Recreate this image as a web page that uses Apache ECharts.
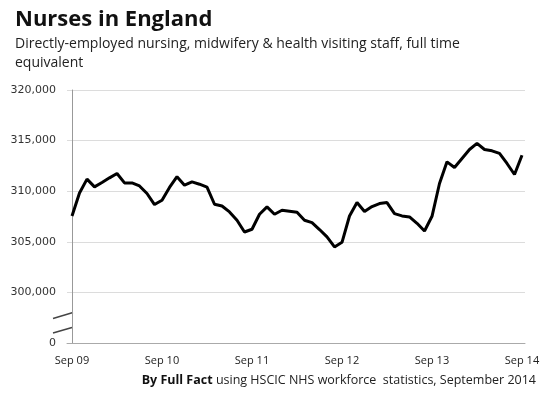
<!DOCTYPE html>
<html>
<head>
<meta charset="utf-8">
<script src="https://cdn.jsdelivr.net/npm/echarts@6/dist/echarts.min.js"></script>
<style>
  html, body { margin: 0; padding: 0; background: #fff; }
  #main { width: 550px; height: 403px; }
</style>
</head>
<body>
<div id="main"></div>
<script>
// monthly, Sep 2009 .. Sep 2014
var months = ['Sep', 'Oct', 'Nov', 'Dec', 'Jan', 'Feb', 'Mar', 'Apr', 'May', 'Jun', 'Jul', 'Aug'];
var startYear = 9;
var nurses = [
  307550, 309830, 311190, 310430, 310860, 311320, 311750, 310820, 310820, 310520, 309770, 308680,
  309110, 310370, 311430, 310590, 310920, 310690, 310400, 308710, 308540, 307950, 307130, 305970,
  306240, 307720, 308450, 307720, 308120, 308020, 307920, 307130, 306900, 306210, 305480, 304490,
  304950, 307550, 308880, 307990, 308480, 308780, 308880, 307790, 307560, 307460, 306830, 306070,
  307520, 310760, 312900, 312340, 313230, 314120, 314720, 314120, 313990, 313730, 312740, 311650,
  313560
];
var xTicks = [0, 12, 24, 36, 48, 60];
var yTicks = [295000, 300000, 305000, 310000, 315000, 320000];

function monthLabel(i) {
  var m = months[i % 12];
  var y = startYear + Math.floor((i + 8) / 12);
  return m + ' ' + (y < 10 ? '0' + y : y);
}

var seriesData = nurses.map(function (v, i) { return [i, v]; });

var chart = echarts.init(document.getElementById('main'));
var option = {
  animation: false,
  backgroundColor: '#fff',
  title: {
    text: 'Nurses in England',
    subtext: 'Directly-employed nursing, midwifery & health visiting staff, full time\nequivalent',
    left: 10,
    top: 4,
    itemGap: 4,
    textStyle: { fontFamily: 'Open Sans', fontWeight: 'bold', fontSize: 22, color: '#111' },
    subtextStyle: { fontFamily: 'Open Sans', fontSize: 14, color: '#222', lineHeight: 19 }
  },
  grid: { left: 67, right: 25, top: 90, bottom: 60 },
  xAxis: {
    type: 'value',
    min: -0.667,
    max: 60.4,
    splitLine: { show: false },
    axisTick: { show: false },
    axisLine: { lineStyle: { color: '#aaa' } },
    axisLabel: {
      customValues: xTicks,
      margin: 12,
      fontFamily: 'Open Sans',
      fontSize: 11,
      color: '#222',
      formatter: function (v) { return monthLabel(Math.round(v)); }
    }
  },
  yAxis: {
    type: 'value',
    min: 295000,
    max: 320000,
    interval: 5000,
    axisLine: { show: true, lineStyle: { color: '#999' } },
    axisTick: { show: false },
    splitLine: { lineStyle: { color: '#dcdcdc' } },
    axisLabel: {
      margin: 11,
      fontFamily: 'DejaVu Sans',
      fontSize: 11,
      color: '#333',
      formatter: function (v) {
        if (v === yTicks[0]) return '0';
        return v.toString().replace(/\B(?=(\d{3})+(?!\d))/g, ',');
      }
    }
  },
  series: [{
    type: 'line',
    data: seriesData,
    showSymbol: false,
    lineStyle: { color: '#000', width: 3 },
    z: 3
  }],
  graphic: [
    // axis break marks
    { type: 'line', shape: { x1: 53, y1: 318.5, x2: 73, y2: 312.5 }, style: { stroke: '#444', lineWidth: 1.5 } },
    { type: 'line', shape: { x1: 53, y1: 333, x2: 72, y2: 327.5 }, style: { stroke: '#444', lineWidth: 1.5 } },
    {
      type: 'text',
      right: 14,
      top: 374,
      style: {
        text: '{b|By Full Fact} using HSCIC NHS workforce  statistics, September 2014',
        fontFamily: 'Open Sans',
        fontSize: 12.5,
        fill: '#222',
        rich: { b: { fontFamily: 'Open Sans', fontWeight: 'bold', fontSize: 12.5, fill: '#111' } }
      }
    }
  ]
};
chart.setOption(option);
</script>
</body>
</html>
